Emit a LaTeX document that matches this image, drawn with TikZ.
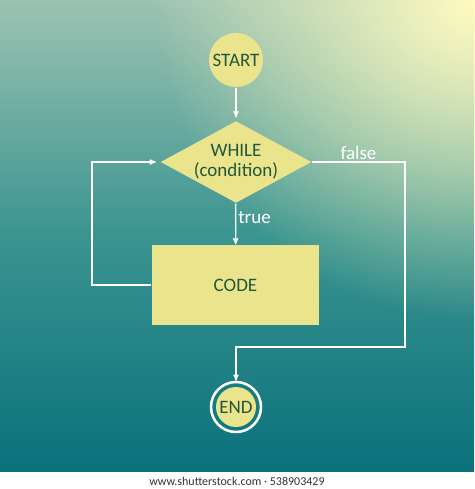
\documentclass[tikz,border=0pt]{standalone}
\usepackage{fontspec}
\setmainfont{Carlito}
\usetikzlibrary{shapes.geometric}
\usetikzlibrary{arrows}
\usetikzlibrary{calc}
\usetikzlibrary{positioning}
\usetikzlibrary{fadings}
\definecolor{boxyellow}{HTML}{EAE48D}
\definecolor{textgreen}{HTML}{22573D}
\definecolor{bgtop}{HTML}{9DC3B2}
\definecolor{bgmid}{HTML}{3A9490}
\definecolor{bgbottom}{HTML}{0A717B}
\definecolor{glow}{HTML}{FFFBC0}
\definecolor{footgray}{HTML}{333333}
\tikzfading[name=glowfade, inner color=transparent!0, outer color=transparent!100]

\begin{document}
\begin{tikzpicture}[x=1pt, y=-1pt]
  \pgfmathsetmacro{\XL}{92}
  \pgfmathsetmacro{\XR}{405}
  \pgfmathsetmacro{\YB}{347}
\tikzset{
  flow/.style={fill=boxyellow, text=textgreen, align=center, inner sep=0pt,
    font=\fontsize{19}{20}\selectfont},
  term/.style={flow, circle, minimum size=54pt},
  cond/.style={flow, diamond, aspect=1.84, minimum width=151pt, minimum height=82pt},
  code/.style={flow, rectangle, minimum width=167pt, minimum height=80pt},
  ring/.style={draw=white, circle, line width=2.5pt, minimum size=50pt, inner sep=0pt},
  lbl/.style={text=white, inner sep=1pt, font=\fontsize{19}{20}\selectfont},
}
%
\tikzset{>=stealth', every path/.append style={line width=1.2pt}}

       % background
       \useasboundingbox (0,0) rectangle (474,489);
       \shade[top color=bgtop, bottom color=bgbottom, middle color=bgmid]
       (0,0) rectangle (474,472);
       \fill[glow, path fading=glowfade] (474,0) circle (320pt);
       \fill[white] (0,472) rectangle (474,489);
       \node[text=footgray, font=\fontsize{12}{12}\selectfont] (foot) at
       (237,481) {www.shutterstock.com · 538903429};

       \node [term] (start) at (236, 60) {START};
       \node [cond] (while) at (236, 162) {WHILE\\(condition)};
       \node [code] (code) at (235.5, 285) {CODE};
       \node [term, minimum size=40pt] (end) at (236, 407) {END};
       \node [ring] (endring) at (end) {};

       \draw[->, white, shorten >=3pt] (start) -- (while);
       \draw[->, white] (while) -- (code) node [lbl, pos=0.35, right=1pt]{true};
       \draw[->, white] (while.east) -- (\XR, 162) node [lbl, midway, above=1pt]{false}
       -- (\XR, \YB) -| (endring);
       \draw[->, white, shorten >=4pt] (code.west) -- (\XL, 285) |- (while.west);

\end{tikzpicture}
\end{document}
